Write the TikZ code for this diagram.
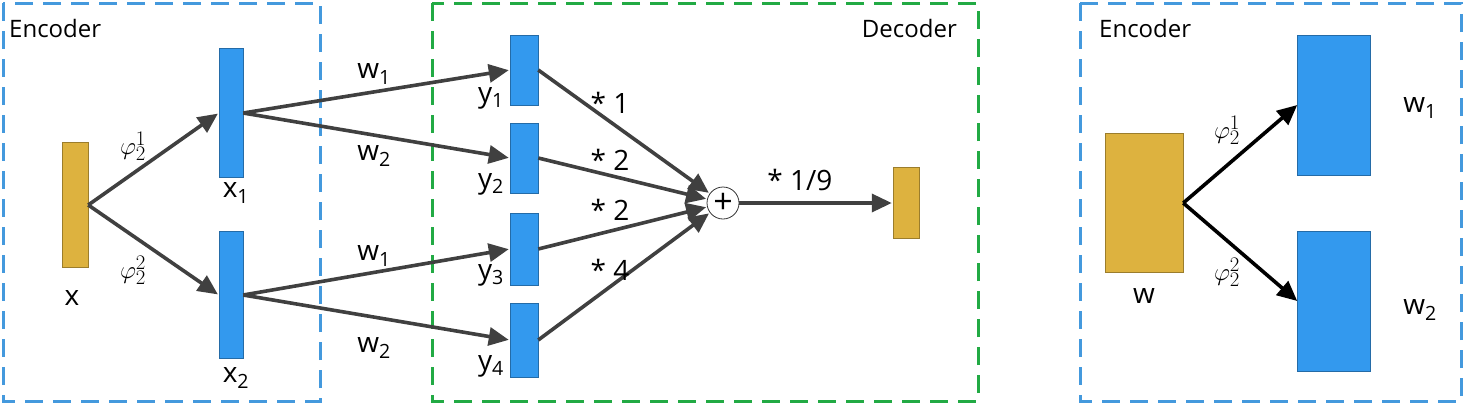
\documentclass[tikz,border=0pt]{standalone}
\usepackage{fontspec}
\setmainfont{Open Sans}
\usetikzlibrary{arrows.meta}
\definecolor{bblue}{HTML}{3399EE}
\definecolor{gold}{HTML}{DDB23F}
\definecolor{dgreen}{HTML}{22AA44}
\definecolor{dashb}{HTML}{4499DD}
\begin{document}
\begin{tikzpicture}[x=1pt,y=-1pt,
 box/.style={draw=#1,line width=3pt,dash pattern=on 18pt off 10pt},
 blk/.style={fill=bblue,draw=bblue!70!black,line width=0.5pt,inner sep=0,minimum width=#1},
 gld/.style={fill=gold,draw=gold!70!black,line width=0.5pt,inner sep=0},
 arr/.style={draw=black!75,line width=3.6pt,-{Triangle[length=20pt,width=18pt]},shorten >=1pt},
 barr/.style={draw=black,line width=3.6pt,-{Triangle[length=20pt,width=18pt]}},
 lab/.style={font=\fontsize{28}{30}\selectfont,inner sep=1pt},
 sm/.style={font=\fontsize{24}{26}\selectfont,inner sep=1pt}]
\useasboundingbox (0,0) rectangle (1464,405);
\draw[box=dashb] (3,3) rectangle (320,401);
\draw[box=dgreen] (432,3) rectangle (978,401);
\draw[box=dashb] (1080,3) rectangle (1461,401);
\node[sm,anchor=west] (e1) at (8,28) {Encoder};
\node[sm,anchor=east] (d1) at (958,28) {Decoder};
\node[sm,anchor=west] (e2) at (1098,28) {Encoder};
% encoder
\node[gld,minimum width=26pt,minimum height=125pt] (x) at (75,205) {};
\node[blk=24pt,minimum height=129pt] (x1) at (231,113) {};
\node[blk=24pt,minimum height=127pt] (x2) at (231,295) {};
\node[lab] (xl) at (72,298) {x};
\node[lab] (x1l) at (236,193) {x\textsubscript{1}};
\node[lab] (x2l) at (236,378) {x\textsubscript{2}};
\draw[arr] (x.east) -- (x1.west);
\draw[arr] (x.east) -- (x2.west);
\node[lab] (p1) at (133,146) {$\varphi_2^1$};
\node[lab] (p2) at (133,270) {$\varphi_2^2$};
% decoder
\node[blk=28pt,minimum height=70pt] (y1) at (524,70) {};
\node[blk=28pt,minimum height=70pt] (y2) at (524,158) {};
\node[blk=28pt,minimum height=72pt] (y3) at (524,249) {};
\node[blk=28pt,minimum height=74pt] (y4) at (524,340) {};
\draw[arr] (x1.east) -- (y1.west);
\draw[arr] (x1.east) -- (y2.west);
\draw[arr] (x2.east) -- (y3.west);
\draw[arr] (x2.east) -- (y4.west);
\node[lab] (w1a) at (374,74) {w\textsubscript{1}};
\node[lab] (w2a) at (374,156) {w\textsubscript{2}};
\node[lab] (w1b) at (374,256) {w\textsubscript{1}};
\node[lab] (w2b) at (374,348) {w\textsubscript{2}};
\node[lab] (y1l) at (491,98) {y\textsubscript{1}};
\node[lab] (y2l) at (491,184) {y\textsubscript{2}};
\node[lab] (y3l) at (491,275) {y\textsubscript{3}};
\node[lab] (y4l) at (491,366) {y\textsubscript{4}};
\node[circle,draw=black!80,line width=0.8pt,minimum size=32pt,inner sep=0,font=\fontsize{34}{34}\selectfont] (pl) at (723,203) {+};
\draw[arr] (y1.east) -- (pl);
\draw[arr] (y2.east) -- (pl);
\draw[arr] (y3.east) -- (pl);
\draw[arr] (y4.east) -- (pl);
\node[lab] (m1) at (610,103) {* 1};
\node[lab] (m2) at (610,160) {* 2};
\node[lab] (m3) at (610,210) {* 2};
\node[lab] (m4) at (610,270) {* 4};
\node[gld,minimum width=26pt,minimum height=71pt] (o) at (906,203) {};
\draw[arr] (pl) -- (o.west);
\node[lab] (m9) at (800,180) {* 1/9};
% right
\node[gld,minimum width=78pt,minimum height=139pt] (w) at (1144,203) {};
\node[blk=73pt,minimum height=140pt] (wb1) at (1334,105) {};
\node[blk=73pt,minimum height=140pt] (wb2) at (1334,301) {};
\draw[barr] (w.east) -- (wb1.west);
\draw[barr] (w.east) -- (wb2.west);
\node[lab] (p3) at (1227,130) {$\varphi_2^1$};
\node[lab] (p4) at (1227,272) {$\varphi_2^2$};
\node[lab] (wl) at (1144,296) {w};
\node[lab] (w1l) at (1420,108) {w\textsubscript{1}};
\node[lab] (w2l) at (1420,310) {w\textsubscript{2}};
\end{tikzpicture}
\end{document}
